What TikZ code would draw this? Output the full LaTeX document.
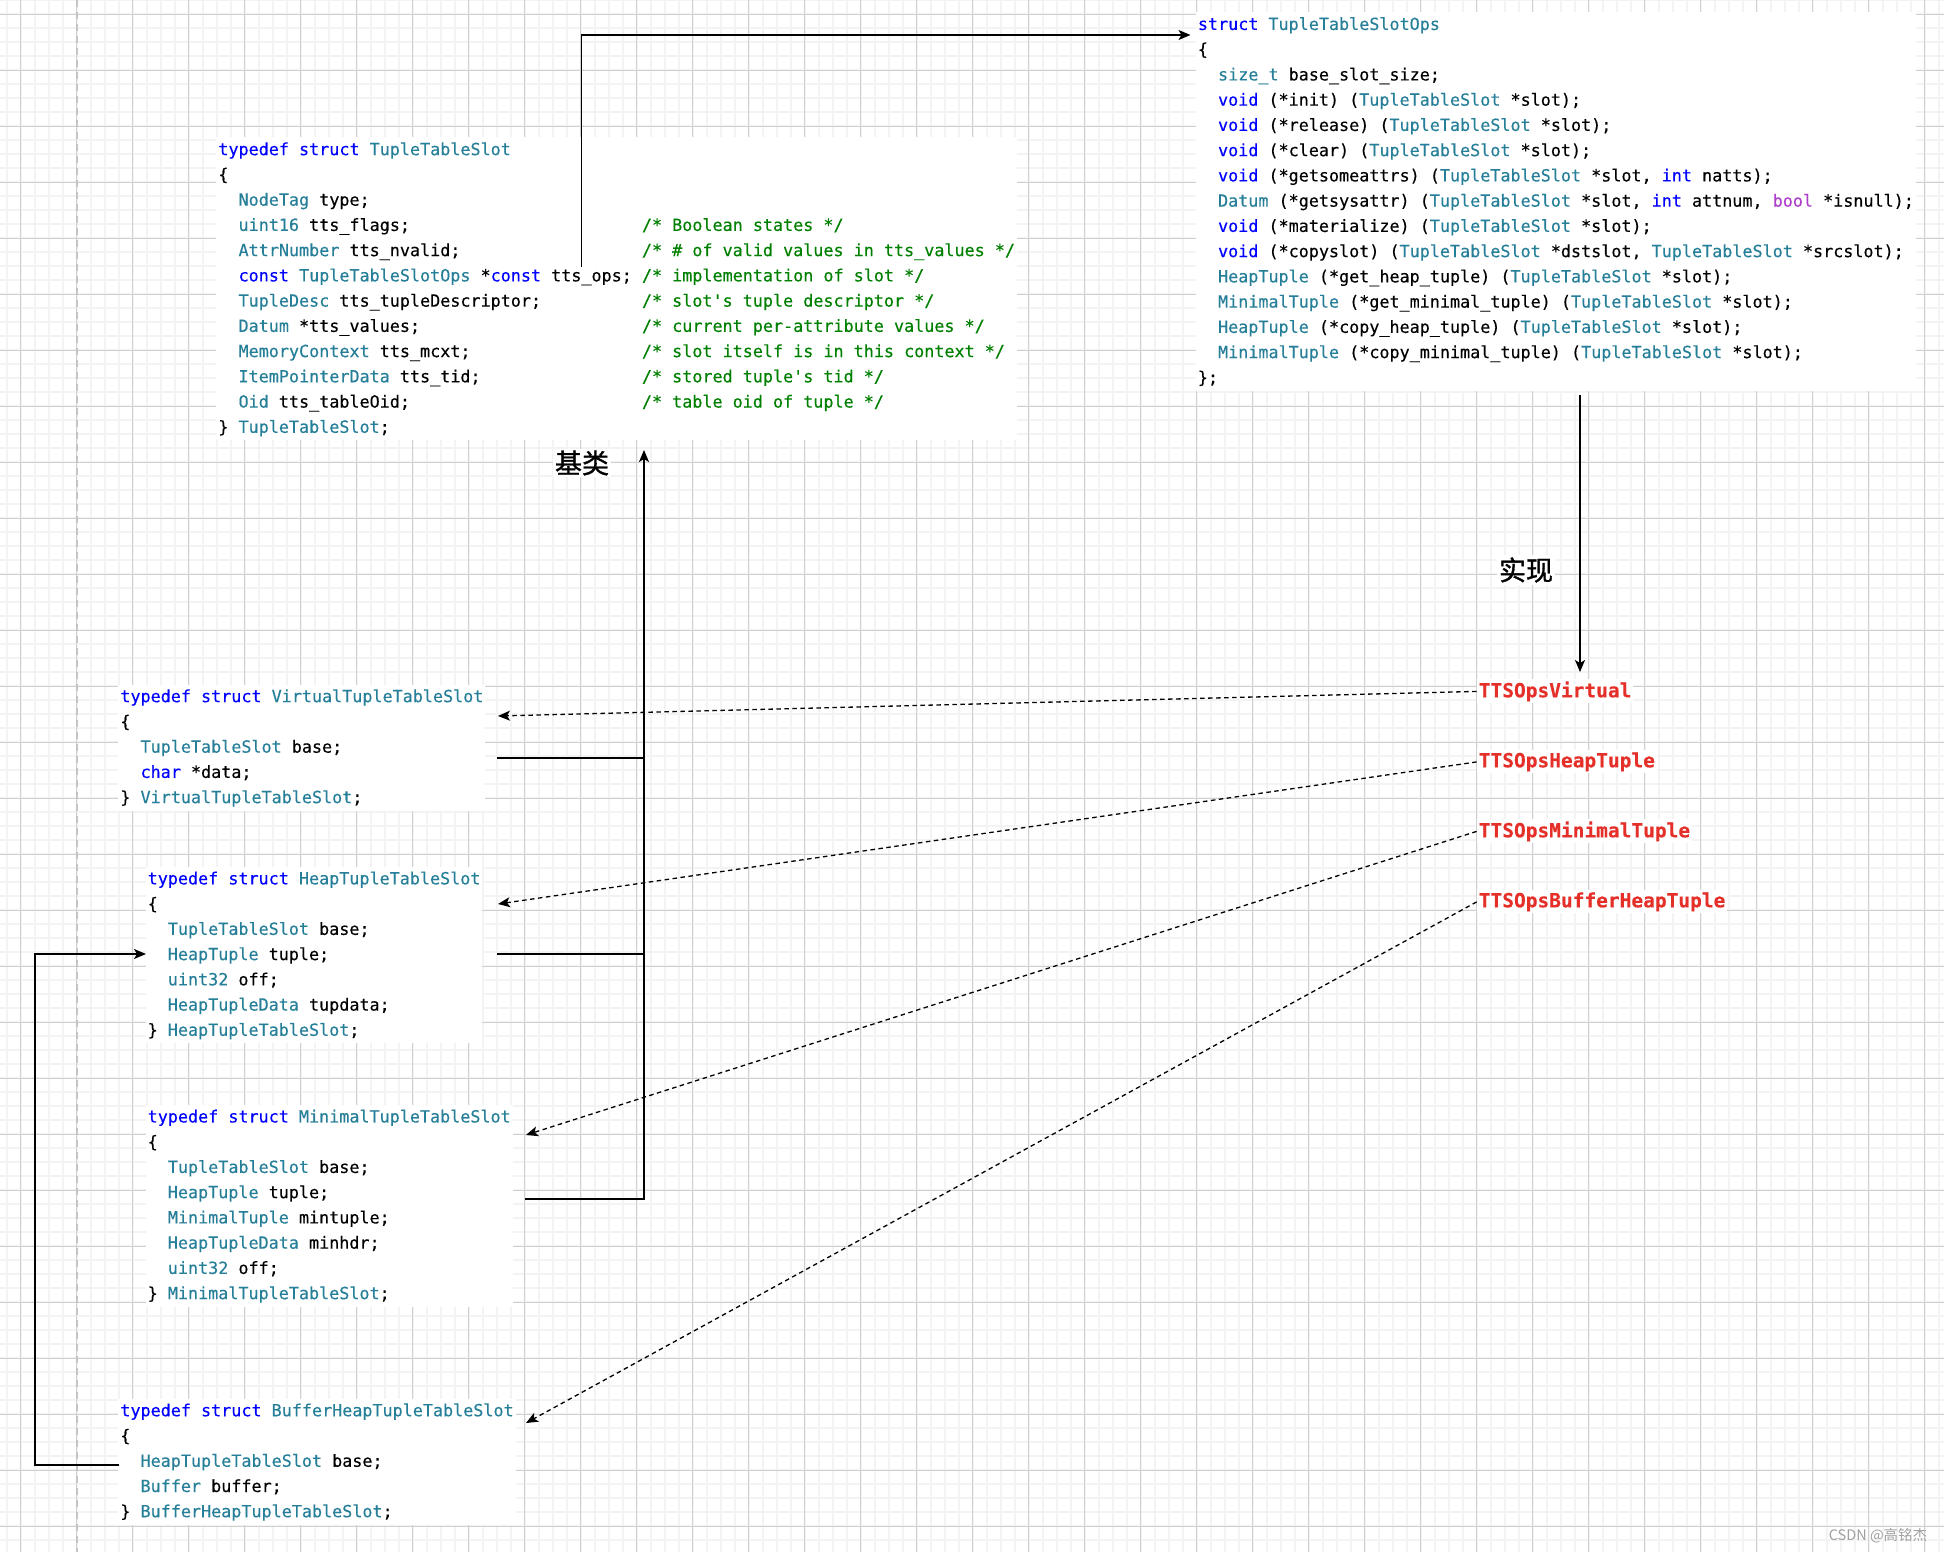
\documentclass[tikz,border=0pt]{standalone}
\usepackage{fontspec}
\setmonofont{DejaVu Sans Mono}[FakeBold=0.3]
\newfontfamily\cjkfont{Noto Sans CJK SC}
\newfontfamily\cjkboldish{Noto Sans CJK SC}[FakeBold=1.2]
\usetikzlibrary{arrows.meta}
\definecolor{kw}{HTML}{0000FF}
\definecolor{ty}{HTML}{267F99}
\definecolor{cm}{HTML}{008000}
\definecolor{bo}{HTML}{AF3FCB}
\definecolor{lab}{HTML}{E5302A}
\definecolor{gminor}{HTML}{F3F3F3}
\definecolor{gmajor}{HTML}{D0D0D0}
\definecolor{pagebrk}{HTML}{C4C4C4}
\definecolor{wmark}{HTML}{A0A0A0}
\newlength\cw
\newcommand\ckw[1]{\textcolor{kw}{#1}}
\newcommand\cty[1]{\textcolor{ty}{#1}}
\newcommand\ccm[1]{\textcolor{cm}{#1}}
\newcommand\cbo[1]{\textcolor{bo}{#1}}
\newcommand\cind{\hspace*{2\cw}}
\newcommand\ccol[1]{\makebox[42\cw][l]{#1}}
\newcommand\codesize{\fontsize{16.75}{25.24}\selectfont\ttfamily\settowidth{\cw}{M}}
\tikzset{
  code/.style={font=\codesize, align=left, anchor=north west, inner xsep=2pt, inner ysep=0pt, fill=white},
  opslabel/.style={font=\fontsize{19.5}{22}\selectfont\ttfamily\bfseries, text=lab, anchor=base west, fill=white, inner xsep=2pt, inner ysep=2pt},
  cnlabel/.style={font=\cjkboldish\fontsize{27}{30}\selectfont, fill=white, inner sep=2pt},
  arr/.style={-{Stealth[length=12pt,width=10pt,inset=3pt]}, line width=1.5pt, black},
  line/.style={line width=1.5pt, black},
  dasharr/.style={arr, line width=1.3pt, dash pattern=on 4.5pt off 3.5pt},
}
\begin{document}
\begin{tikzpicture}[x=1pt, y=-1pt]
\fill[white] (0,0) rectangle (1944,1552);
\useasboundingbox (0,0) rectangle (1944,1552);
% grid
\foreach \i in {0,...,138} \draw[gminor, line width=2pt] (6.7+14*\i,0) -- (6.7+14*\i,1552);
\foreach \j in {0,...,110} \draw[gminor, line width=2pt] (0,0.3+14*\j) -- (1944,0.3+14*\j);
\foreach \i in {0,...,34} \draw[gmajor, line width=1pt] (20.7+56*\i,0) -- (20.7+56*\i,1552);
\foreach \j in {0,...,27} \draw[gmajor, line width=1pt] (0,14.3+56*\j) -- (1944,14.3+56*\j);
\draw[pagebrk, line width=2pt, dash pattern=on 7pt off 5pt] (76.7,0) -- (76.7,1552);

% base struct
\node[code] (tts) at (216.2,137.3) {%
\strut\ckw{typedef} \ckw{struct} \cty{TupleTableSlot}\\
\strut\{\\
\strut\cind\cty{NodeTag} type;\\
\strut\ccol{\cind\cty{uint16} tts\_flags;}\ccm{/* Boolean states */}\\
\strut\ccol{\cind\cty{AttrNumber} tts\_nvalid;}\ccm{/* \# of valid values in tts\_values */}\\
\strut\ccol{\cind\ckw{const} \cty{TupleTableSlotOps} *\ckw{const} tts\_ops;}\ccm{/* implementation of slot */}\\
\strut\ccol{\cind\cty{TupleDesc} tts\_tupleDescriptor;}\ccm{/* slot\textquotesingle s tuple descriptor */}\\
\strut\ccol{\cind\cty{Datum} *tts\_values;}\ccm{/* current per-attribute values */}\\
\strut\ccol{\cind\cty{MemoryContext} tts\_mcxt;}\ccm{/* slot itself is in this context */}\\
\strut\ccol{\cind\cty{ItemPointerData} tts\_tid;}\ccm{/* stored tuple\textquotesingle s tid */}\\
\strut\ccol{\cind\cty{Oid} tts\_tableOid;}\ccm{/* table oid of tuple */}\\
\strut\} \cty{TupleTableSlot};};

% ops struct
\node[code] (ops) at (1195.7,12.1) {%
\strut\ckw{struct} \cty{TupleTableSlotOps}\\
\strut\{\\
\strut\cind\cty{size\_t} base\_slot\_size;\\
\strut\cind\ckw{void} (*init) (\cty{TupleTableSlot} *slot);\\
\strut\cind\ckw{void} (*release) (\cty{TupleTableSlot} *slot);\\
\strut\cind\ckw{void} (*clear) (\cty{TupleTableSlot} *slot);\\
\strut\cind\ckw{void} (*getsomeattrs) (\cty{TupleTableSlot} *slot, \ckw{int} natts);\\
\strut\cind\cty{Datum} (*getsysattr) (\cty{TupleTableSlot} *slot, \ckw{int} attnum, \cbo{bool} *isnull);\\
\strut\cind\ckw{void} (*materialize) (\cty{TupleTableSlot} *slot);\\
\strut\cind\ckw{void} (*copyslot) (\cty{TupleTableSlot} *dstslot, \cty{TupleTableSlot} *srcslot);\\
\strut\cind\cty{HeapTuple} (*get\_heap\_tuple) (\cty{TupleTableSlot} *slot);\\
\strut\cind\cty{MinimalTuple} (*get\_minimal\_tuple) (\cty{TupleTableSlot} *slot);\\
\strut\cind\cty{HeapTuple} (*copy\_heap\_tuple) (\cty{TupleTableSlot} *slot);\\
\strut\cind\cty{MinimalTuple} (*copy\_minimal\_tuple) (\cty{TupleTableSlot} *slot);\\
\strut\};};

% derived structs
\node[code] (virt) at (118.2,684.3) {%
\strut\ckw{typedef} \ckw{struct} \cty{VirtualTupleTableSlot}\\
\strut\{\\
\strut\cind\cty{TupleTableSlot} base;\\
\strut\cind\ckw{char} *data;\\
\strut\} \cty{VirtualTupleTableSlot};};

\node[code] (heap) at (145.5,866.5) {%
\strut\ckw{typedef} \ckw{struct} \cty{HeapTupleTableSlot}\\
\strut\{\\
\strut\cind\cty{TupleTableSlot} base;\\
\strut\cind\cty{HeapTuple} tuple;\\
\strut\cind\cty{uint32} off;\\
\strut\cind\cty{HeapTupleData} tupdata;\\
\strut\} \cty{HeapTupleTableSlot};};

\node[code] (mini) at (145.5,1104.6) {%
\strut\ckw{typedef} \ckw{struct} \cty{MinimalTupleTableSlot}\\
\strut\{\\
\strut\cind\cty{TupleTableSlot} base;\\
\strut\cind\cty{HeapTuple} tuple;\\
\strut\cind\cty{MinimalTuple} mintuple;\\
\strut\cind\cty{HeapTupleData} minhdr;\\
\strut\cind\cty{uint32} off;\\
\strut\} \cty{MinimalTupleTableSlot};};

\node[code] (buf) at (118.2,1398.4) {%
\strut\ckw{typedef} \ckw{struct} \cty{BufferHeapTupleTableSlot}\\
\strut\{\\
\strut\cind\cty{HeapTupleTableSlot} base;\\
\strut\cind\cty{Buffer} buffer;\\
\strut\} \cty{BufferHeapTupleTableSlot};};

% ops instances
\node[opslabel] (opsV) at (1476.6,697.3) {TTSOpsVirtual};
\node[opslabel] (opsH) at (1476.6,767.3) {TTSOpsHeapTuple};
\node[opslabel] (opsM) at (1476.6,837.3) {TTSOpsMinimalTuple};
\node[opslabel] (opsB) at (1476.6,907.3) {TTSOpsBufferHeapTuple};

% labels
\node[cnlabel] (jilei) at (582,463) {基类};
\node[cnlabel] (shixian) at (1526,570) {实现};
\node[font=\cjkfont\fontsize{14.5}{16}\selectfont, text=wmark] (wm) at (1878,1536) {CSDN @高铭杰};

% connector end points
\coordinate (opsField) at (581.5,267);
\coordinate (opsIn) at (1190.5,35);
\coordinate (opsOut) at (1580,395);
\coordinate (opsVIn) at (1580,672);
\coordinate (ttsIn) at (644,450);
\coordinate (virtOut) at (497,758);
\coordinate (heapOut) at (497,954);
\coordinate (miniOut) at (525,1199);
\coordinate (bufOut) at (119,1465);
\coordinate (heapIn) at (146,954);
\coordinate (virtIn) at (498,716);
\coordinate (heapIn2) at (498,904);
\coordinate (miniIn) at (526,1135);
\coordinate (bufIn) at (526,1423);

% connectors
\draw[arr] (opsField) |- (opsIn);
\draw[arr] (opsOut) -- (opsVIn);
\draw[arr] (miniOut) -| (ttsIn);
\draw[line] (virtOut) -- (virtOut -| ttsIn);
\draw[line] (heapOut) -- (heapOut -| ttsIn);
\draw[arr] (bufOut) -- ++(-84,0) |- (heapIn);
\draw[dasharr] (opsV.west) -- (virtIn);
\draw[dasharr] (opsH.west) -- (heapIn2);
\draw[dasharr] (opsM.west) -- (miniIn);
\draw[dasharr] (opsB.west) -- (bufIn);
\end{tikzpicture}
\end{document}
